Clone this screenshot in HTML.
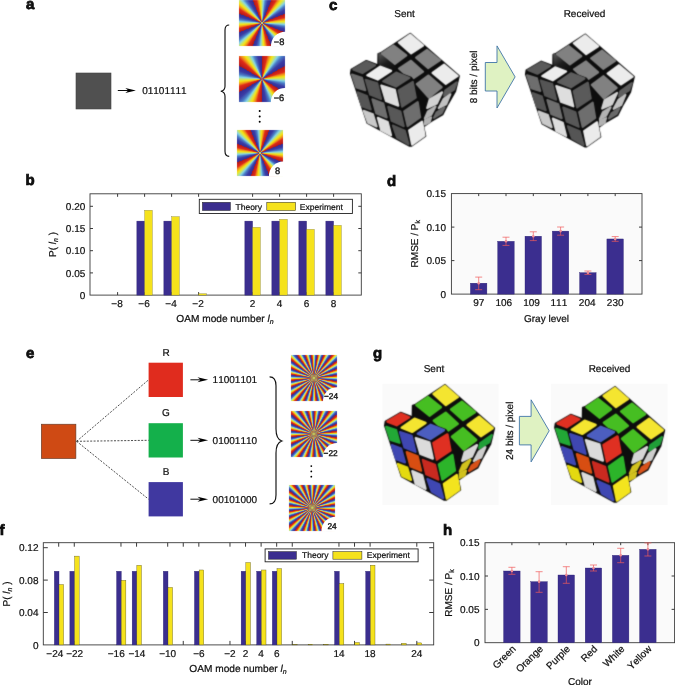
<!DOCTYPE html>
<html lang="en"><head><meta charset="utf-8"><title>OAM encoding figure</title>
<style>
html,body{margin:0;padding:0;background:#fff;}
#fig{position:relative;width:675px;height:685px;overflow:hidden;background:#fff;font-family:"Liberation Sans", Arial, Helvetica, sans-serif;}
.pat{position:absolute;filter:url(#pblur);}
svg{position:absolute;left:0;top:0;}
svg text{font-family:"Liberation Sans", Arial, Helvetica, sans-serif;fill:#111;text-rendering:geometricPrecision;font-kerning:none;stroke:#111;stroke-width:0.22px;}
svg text.lb{stroke-width:0.35px;}
</style></head><body>
<div id="fig">
<div class="pat" style="left:239px;top:-0.2px;width:46px;height:46px;background:repeating-conic-gradient(from 22.5deg at 50% 50%, #ae1818 0deg, #c4201a 3.6deg, #de2a18 9deg, #f08c1a 13.05deg, #f4e412 18deg, #c8e46c 22.05deg, #84d4e6 26.1deg, #4a7cc6 31.05deg, #3a3ca4 37.35deg, #342c96 45deg)"></div>
<div class="pat" style="left:238.9px;top:56px;width:46px;height:46px;background:repeating-conic-gradient(from 0deg at 50% 50%, #ae1818 0deg, #c4201a 4.8deg, #de2a18 12deg, #f08c1a 17.4deg, #f4e412 24deg, #c8e46c 29.4deg, #84d4e6 34.8deg, #4a7cc6 41.4deg, #3a3ca4 49.8deg, #342c96 60deg)"></div>
<div class="pat" style="left:237px;top:129.6px;width:46px;height:46px;background:repeating-conic-gradient(from 22.5deg at 50% 50%, #342c96 0deg, #3a3ca4 7.65deg, #4a7cc6 13.95deg, #84d4e6 18.9deg, #c8e46c 22.95deg, #f4e412 27deg, #f08c1a 31.95deg, #de2a18 36deg, #c4201a 41.4deg, #ae1818 45deg)"></div>
<div class="pat" style="left:290.7px;top:354.9px;width:46.3px;height:46.3px;background:repeating-conic-gradient(from 7.5deg at 50% 50%, #ae1818 0deg, #c4201a 1.2deg, #de2a18 3deg, #f08c1a 4.35deg, #f4e412 6deg, #c8e46c 7.35deg, #84d4e6 8.7deg, #4a7cc6 10.35deg, #3a3ca4 12.45deg, #342c96 15deg)"></div>
<div class="pat" style="left:290.6px;top:410.8px;width:46.3px;height:46.3px;background:repeating-conic-gradient(from 16.36deg at 50% 50%, #ae1818 0deg, #c4201a 1.31deg, #de2a18 3.27deg, #f08c1a 4.75deg, #f4e412 6.55deg, #c8e46c 8.02deg, #84d4e6 9.49deg, #4a7cc6 11.29deg, #3a3ca4 13.58deg, #342c96 16.36deg)"></div>
<div class="pat" style="left:289.2px;top:484.5px;width:46.3px;height:46.3px;background:repeating-conic-gradient(from 7.5deg at 50% 50%, #342c96 0deg, #3a3ca4 2.55deg, #4a7cc6 4.65deg, #84d4e6 6.3deg, #c8e46c 7.65deg, #f4e412 9deg, #f08c1a 10.65deg, #de2a18 12deg, #c4201a 13.8deg, #ae1818 15deg)"></div>
<svg width="675" height="685" viewBox="0 0 675 685">
<defs><radialGradient id="blob"><stop offset="0" stop-color="#c4d05c" stop-opacity="0.95"/><stop offset="0.13" stop-color="#bcc45a" stop-opacity="0.95"/><stop offset="0.26" stop-color="#a88a52" stop-opacity="0.9"/><stop offset="0.55" stop-color="#a88450" stop-opacity="0.7"/><stop offset="1" stop-color="#a88450" stop-opacity="0"/></radialGradient><linearGradient id="sideg" gradientUnits="userSpaceOnUse" x1="414" y1="404" x2="426" y2="424"><stop offset="0" stop-color="#5a5a5a"/><stop offset="0.55" stop-color="#1c1c1c"/><stop offset="1" stop-color="#0d0d0d"/></linearGradient><filter id="pblur" x="-5%" y="-5%" width="110%" height="110%" color-interpolation-filters="sRGB"><feConvolveMatrix order="3" kernelMatrix="0.0108 0.1040 0.0108 0.1040 1 0.1040 0.0108 0.1040 0.0108" edgeMode="duplicate" preserveAlpha="false"/></filter><filter id="soft" x="-5%" y="-5%" width="110%" height="110%" color-interpolation-filters="sRGB"><feConvolveMatrix order="3" kernelMatrix="0.0622 0.2494 0.0622 0.2494 1 0.2494 0.0622 0.2494 0.0622" edgeMode="none" preserveAlpha="false"/></filter></defs>
<text x="26" y="9.4" font-size="15" font-weight="bold" style="stroke:#000;stroke-width:0.7px">a</text>
<rect x="76" y="73" width="35" height="36" fill="#505050" stroke="#444" stroke-width="0.6"/>
<path d="M117.8 90.5 H129.6" stroke="#000" stroke-width="0.95" fill="none"/>
<path d="M135.9 90.5 L125.3 88 L128.4 90.5 L125.3 93 Z" fill="#000"/>
<text x="142.2" y="94.1" font-size="10" text-anchor="start" >01101111</text>
<path d="M229.2 25 Q225 25 225 30 L225 86.2 C225 89.7 222.9 90.8 220.8 91.2 C222.9 91.6 225 92.7 225 96.2 L225 151.3 Q225 156.3 229.2 156.3" stroke="#111" stroke-width="1.15" fill="none"/>
<path d="M271 46.8 A14 14 0 0 1 286 31.8 L286 46.8 L271 46.8 Z" fill="#fff"/>
<text x="284.4" y="44.6" font-size="9.3" text-anchor="end" class="lb">−8</text>
<path d="M270.9 103 A14 14 0 0 1 285.9 88 L285.9 103 L270.9 103 Z" fill="#fff"/>
<text x="284.3" y="100.8" font-size="9.3" text-anchor="end" class="lb">−6</text>
<path d="M269 176.6 A14 14 0 0 1 284 161.6 L284 176.6 L269 176.6 Z" fill="#fff"/>
<text x="280.2" y="174.4" font-size="9.3" text-anchor="end" class="lb">8</text>
<circle cx="259.7" cy="111" r="1" fill="#000"/>
<circle cx="259.7" cy="116.4" r="1" fill="#000"/>
<circle cx="259.7" cy="121.8" r="1" fill="#000"/>
<text x="26" y="357.7" font-size="15" font-weight="bold" style="stroke:#000;stroke-width:0.7px">e</text>
<rect x="41.3" y="424.2" width="34.6" height="34.4" fill="#cf4a14" stroke="#5a3a2a" stroke-width="0.6"/>
<rect x="148.6" y="362.7" width="34.3" height="34.3" fill="#e02c1e"/>
<text x="166" y="355.8" font-size="10" text-anchor="middle" >R</text>
<path d="M190.4 379.8 H201.8" stroke="#000" stroke-width="0.95" fill="none"/>
<path d="M208.1 379.8 L197.5 377.3 L200.6 379.8 L197.5 382.3 Z" fill="#000"/>
<text x="212.6" y="383.4" font-size="10" text-anchor="start" >11001101</text>
<path d="M76.6 441.3 L148.6 379.8" stroke="#222" stroke-width="0.8" stroke-dasharray="2 1.4" fill="none"/>
<rect x="148.6" y="423.2" width="34.3" height="34.3" fill="#14b04b"/>
<text x="166" y="416.3" font-size="10" text-anchor="middle" >G</text>
<path d="M190.4 440.3 H201.8" stroke="#000" stroke-width="0.95" fill="none"/>
<path d="M208.1 440.3 L197.5 437.8 L200.6 440.3 L197.5 442.8 Z" fill="#000"/>
<text x="212.6" y="443.9" font-size="10" text-anchor="start" >01001110</text>
<path d="M76.6 441.3 L148.6 440.3" stroke="#222" stroke-width="0.8" stroke-dasharray="2 1.4" fill="none"/>
<rect x="148.6" y="482.1" width="34.3" height="34.3" fill="#4038a0"/>
<text x="166" y="475.2" font-size="10" text-anchor="middle" >B</text>
<path d="M190.4 499.2 H201.8" stroke="#000" stroke-width="0.95" fill="none"/>
<path d="M208.1 499.2 L197.5 496.7 L200.6 499.2 L197.5 501.7 Z" fill="#000"/>
<text x="212.6" y="502.8" font-size="10" text-anchor="start" >00101000</text>
<path d="M76.6 441.3 L148.6 499.2" stroke="#222" stroke-width="0.8" stroke-dasharray="2 1.4" fill="none"/>
<path d="M269.6 376.8 Q276 376.8 276 385.8 L276 429 C276 437.4 278.9 440.04 281.8 441 C278.9 441.96 276 444.6 276 453 L276 494.9 Q276 503.9 269.6 503.9" stroke="#111" stroke-width="1.15" fill="none"/>
<circle cx="313.85" cy="378.05" r="6.5" fill="url(#blob)"/>
<path d="M323 402.2 A14 14 0 0 1 338 387.2 L338 402.2 L323 402.2 Z" fill="#fff"/>
<text x="338" y="399.2" font-size="8.3" text-anchor="end" class="lb">−24</text>
<circle cx="313.75" cy="433.95" r="6.5" fill="url(#blob)"/>
<path d="M322.9 458.1 A14 14 0 0 1 337.9 443.1 L337.9 458.1 L322.9 458.1 Z" fill="#fff"/>
<text x="337.7" y="455.6" font-size="8.3" text-anchor="end" class="lb">−22</text>
<circle cx="312.35" cy="507.65" r="6.5" fill="url(#blob)"/>
<path d="M321.5 531.8 A14 14 0 0 1 336.5 516.8 L336.5 531.8 L321.5 531.8 Z" fill="#fff"/>
<text x="336.7" y="529" font-size="8.3" text-anchor="end" class="lb">24</text>
<circle cx="311.3" cy="466.1" r="0.9" fill="#000"/>
<circle cx="311.3" cy="471.4" r="0.9" fill="#000"/>
<circle cx="311.3" cy="476.7" r="0.9" fill="#000"/>
<text x="25.6" y="185.3" font-size="15" font-weight="bold" style="stroke:#000;stroke-width:0.7px">b</text>
<rect x="90" y="193.8" width="271.3" height="101.3" fill="none" stroke="#3a3a3a" stroke-width="0.9"/>
<path d="M117.6 295.1 v-3 M117.6 193.8 v3 M144.6 295.1 v-3 M144.6 193.8 v3 M171.6 295.1 v-3 M171.6 193.8 v3 M198.6 295.1 v-3 M198.6 193.8 v3 M252.6 295.1 v-3 M252.6 193.8 v3 M279.6 295.1 v-3 M279.6 193.8 v3 M306.6 295.1 v-3 M306.6 193.8 v3 M333.6 295.1 v-3 M333.6 193.8 v3 " stroke="#3a3a3a" stroke-width="1" fill="none"/>
<path d="M90 272.9 h3 M361.3 272.9 h-3 M90 250.7 h3 M361.3 250.7 h-3 M90 228.5 h3 M361.3 228.5 h-3 M90 206.3 h3 M361.3 206.3 h-3 " stroke="#3a3a3a" stroke-width="1" fill="none"/>
<text x="85.3" y="298.7" font-size="10" text-anchor="end" >0</text>
<text x="85.3" y="276.5" font-size="10" text-anchor="end" >0.05</text>
<text x="85.3" y="254.3" font-size="10" text-anchor="end" >0.10</text>
<text x="85.3" y="232.1" font-size="10" text-anchor="end" >0.15</text>
<text x="85.3" y="209.9" font-size="10" text-anchor="end" >0.20</text>
<text x="117" y="307.2" font-size="10" text-anchor="middle" >−8</text>
<text x="144" y="307.2" font-size="10" text-anchor="middle" >−6</text>
<text x="171" y="307.2" font-size="10" text-anchor="middle" >−4</text>
<text x="198" y="307.2" font-size="10" text-anchor="middle" >−2</text>
<text x="252.6" y="307.2" font-size="10" text-anchor="middle" >2</text>
<text x="279.6" y="307.2" font-size="10" text-anchor="middle" >4</text>
<text x="306.6" y="307.2" font-size="10" text-anchor="middle" >6</text>
<text x="333.6" y="307.2" font-size="10" text-anchor="middle" >8</text>
<rect x="136.85" y="221.1" width="7.75" height="74" fill="#3b2e8f" stroke="#2a2070" stroke-width="0.35"/>
<rect x="144.7" y="210.3" width="7.6" height="84.8" fill="#f5e21c" stroke="#7a7428" stroke-width="0.35"/>
<rect x="163.85" y="221.1" width="7.75" height="74" fill="#3b2e8f" stroke="#2a2070" stroke-width="0.35"/>
<rect x="171.7" y="216.69" width="7.6" height="78.41" fill="#f5e21c" stroke="#7a7428" stroke-width="0.35"/>
<rect x="198.7" y="293.77" width="7.6" height="1.33" fill="#f5e21c" stroke="#7a7428" stroke-width="0.35"/>
<rect x="244.85" y="221.1" width="7.75" height="74" fill="#3b2e8f" stroke="#2a2070" stroke-width="0.35"/>
<rect x="252.7" y="227.39" width="7.6" height="67.71" fill="#f5e21c" stroke="#7a7428" stroke-width="0.35"/>
<rect x="271.85" y="221.1" width="7.75" height="74" fill="#3b2e8f" stroke="#2a2070" stroke-width="0.35"/>
<rect x="279.7" y="219.4" width="7.6" height="75.7" fill="#f5e21c" stroke="#7a7428" stroke-width="0.35"/>
<rect x="298.85" y="221.1" width="7.75" height="74" fill="#3b2e8f" stroke="#2a2070" stroke-width="0.35"/>
<rect x="306.7" y="229.39" width="7.6" height="65.71" fill="#f5e21c" stroke="#7a7428" stroke-width="0.35"/>
<rect x="325.85" y="221.1" width="7.75" height="74" fill="#3b2e8f" stroke="#2a2070" stroke-width="0.35"/>
<rect x="333.7" y="225.39" width="7.6" height="69.71" fill="#f5e21c" stroke="#7a7428" stroke-width="0.35"/>
<rect x="199.3" y="199.3" width="153.1" height="14.2" fill="#fff" stroke="#222" stroke-width="0.9"/>
<rect x="202.4" y="202.3" width="28" height="8.2" fill="#3b2e8f" stroke="#222" stroke-width="0.5"/>
<rect x="266.8" y="202.3" width="28.8" height="8.2" fill="#f5e21c" stroke="#222" stroke-width="0.5"/>
<text x="235.5" y="209.5" font-size="8.5" text-anchor="start" >Theory</text>
<text x="299.8" y="209.5" font-size="8.5" text-anchor="start" >Experiment</text>
<text transform="translate(56 244.4) rotate(-90)" font-size="10" text-anchor="middle">P( <tspan font-style="italic">l</tspan><tspan font-size="7" dy="2" font-style="italic">n</tspan><tspan dy="-2"> )</tspan></text>
<text x="225" y="321.9" font-size="10.15" text-anchor="middle">OAM mode number <tspan font-style="italic">l</tspan><tspan font-size="7" dy="2" font-style="italic">n</tspan></text>
<text x="387" y="185.8" font-size="15" font-weight="bold" style="stroke:#000;stroke-width:0.7px">d</text>
<rect x="451.4" y="193.6" width="190.6" height="100.5" fill="#fafafa" stroke="#3a3a3a" stroke-width="0.9"/>
<path d="M478.7 294.1 v-2.5 M478.7 193.6 v2.5 M506 294.1 v-2.5 M506 193.6 v2.5 M533.3 294.1 v-2.5 M533.3 193.6 v2.5 M560.6 294.1 v-2.5 M560.6 193.6 v2.5 M587.9 294.1 v-2.5 M587.9 193.6 v2.5 M615.2 294.1 v-2.5 M615.2 193.6 v2.5 " stroke="#3a3a3a" stroke-width="1" fill="none"/>
<path d="M451.4 260.6 h3 M642 260.6 h-3 M451.4 227.1 h3 M642 227.1 h-3 " stroke="#3a3a3a" stroke-width="1" fill="none"/>
<text x="446" y="297.7" font-size="10" text-anchor="end" >0</text>
<text x="446" y="264.2" font-size="10" text-anchor="end" >0.05</text>
<text x="446" y="230.7" font-size="10" text-anchor="end" >0.10</text>
<text x="446" y="197.2" font-size="10" text-anchor="end" >0.15</text>
<rect x="470.4" y="283.18" width="16.5" height="10.92" fill="#3b2e8f" stroke="#2a2070" stroke-width="0.35"/>
<path d="M478.7 277.1 V289.7 M475.2 277.1 h7 M475.2 289.7 h7" stroke="#f05a5a" stroke-width="0.7" fill="none"/>
<circle cx="478.7" cy="283.18" r="1.3" fill="#ee8c96"/>
<text x="478.7" y="306.3" font-size="10" text-anchor="middle" >97</text>
<rect x="497.7" y="241.3" width="16.5" height="52.8" fill="#3b2e8f" stroke="#2a2070" stroke-width="0.35"/>
<path d="M506 237.2 V245.4 M502.5 237.2 h7 M502.5 245.4 h7" stroke="#f05a5a" stroke-width="0.7" fill="none"/>
<circle cx="506" cy="241.3" r="1.3" fill="#ee8c96"/>
<text x="503.8" y="306.3" font-size="10" text-anchor="middle" >106</text>
<rect x="525" y="236.21" width="16.5" height="57.89" fill="#3b2e8f" stroke="#2a2070" stroke-width="0.35"/>
<path d="M533.3 231.8 V240.6 M529.8 231.8 h7 M529.8 240.6 h7" stroke="#f05a5a" stroke-width="0.7" fill="none"/>
<circle cx="533.3" cy="236.21" r="1.3" fill="#ee8c96"/>
<text x="531.6" y="306.3" font-size="10" text-anchor="middle" >109</text>
<rect x="552.3" y="231.12" width="16.5" height="62.98" fill="#3b2e8f" stroke="#2a2070" stroke-width="0.35"/>
<path d="M560.6 227 V235.2 M557.1 227 h7 M557.1 235.2 h7" stroke="#f05a5a" stroke-width="0.7" fill="none"/>
<circle cx="560.6" cy="231.12" r="1.3" fill="#ee8c96"/>
<text x="558.9" y="306.3" font-size="10" text-anchor="middle" >111</text>
<rect x="579.6" y="272.66" width="16.5" height="21.44" fill="#3b2e8f" stroke="#2a2070" stroke-width="0.35"/>
<path d="M587.9 271 V274.4 M584.4 271 h7 M584.4 274.4 h7" stroke="#f05a5a" stroke-width="0.7" fill="none"/>
<circle cx="587.9" cy="272.66" r="1.3" fill="#ee8c96"/>
<text x="587.2" y="306.3" font-size="10" text-anchor="middle" >204</text>
<rect x="606.9" y="238.96" width="16.5" height="55.14" fill="#3b2e8f" stroke="#2a2070" stroke-width="0.35"/>
<path d="M615.2 236.6 V241.3 M611.7 236.6 h7 M611.7 241.3 h7" stroke="#f05a5a" stroke-width="0.7" fill="none"/>
<circle cx="615.2" cy="238.96" r="1.3" fill="#ee8c96"/>
<text x="615.2" y="306.3" font-size="10" text-anchor="middle" >230</text>
<text transform="translate(417.6 243.7) rotate(-90)" font-size="10" text-anchor="middle">RMSE / P<tspan font-size="7" dy="2">k</tspan></text>
<text x="546.5" y="321.5" font-size="10" text-anchor="middle" >Gray level</text>
<text x="-0.5" y="535.1" font-size="15" font-weight="bold" style="stroke:#000;stroke-width:0.7px">f</text>
<rect x="43.3" y="542.7" width="390.4" height="102.2" fill="none" stroke="#3a3a3a" stroke-width="0.9"/>
<path d="M58.7 644.9 v-4 M58.7 542.7 v4 M74.27 644.9 v-4 M74.27 542.7 v4 M120.98 644.9 v-4 M120.98 542.7 v4 M136.55 644.9 v-4 M136.55 542.7 v4 M167.69 644.9 v-4 M167.69 542.7 v4 M198.83 644.9 v-4 M198.83 542.7 v4 M229.97 644.9 v-4 M229.97 542.7 v4 M245.54 644.9 v-4 M245.54 542.7 v4 M261.11 644.9 v-4 M261.11 542.7 v4 M276.68 644.9 v-4 M276.68 542.7 v4 M338.96 644.9 v-4 M338.96 542.7 v4 M370.1 644.9 v-4 M370.1 542.7 v4 M416.81 644.9 v-4 M416.81 542.7 v4 M183.26 644.9 v-4 M183.26 542.7 v4 M292.25 644.9 v-4 M292.25 542.7 v4 M354.53 644.9 v-4 M354.53 542.7 v4 " stroke="#3a3a3a" stroke-width="1" fill="none"/>
<path d="M43.3 612.5 h4.5 M433.7 612.5 h-4.5 M43.3 580.1 h4.5 M433.7 580.1 h-4.5 M43.3 547.7 h4.5 M433.7 547.7 h-4.5 " stroke="#3a3a3a" stroke-width="1" fill="none"/>
<text x="38.5" y="648.5" font-size="10" text-anchor="end" >0</text>
<text x="38.5" y="616.1" font-size="10" text-anchor="end" >0.04</text>
<text x="38.5" y="583.7" font-size="10" text-anchor="end" >0.08</text>
<text x="38.5" y="551.3" font-size="10" text-anchor="end" >0.12</text>
<text x="54.8" y="657.2" font-size="10" text-anchor="middle" >−24</text>
<text x="74.67" y="657.2" font-size="10" text-anchor="middle" >−22</text>
<text x="116.28" y="657.2" font-size="10" text-anchor="middle" >−16</text>
<text x="136.95" y="657.2" font-size="10" text-anchor="middle" >−14</text>
<text x="167.69" y="657.2" font-size="10" text-anchor="middle" >−10</text>
<text x="198.83" y="657.2" font-size="10" text-anchor="middle" >−6</text>
<text x="229.97" y="657.2" font-size="10" text-anchor="middle" >−2</text>
<text x="245.54" y="657.2" font-size="10" text-anchor="middle" >2</text>
<text x="261.11" y="657.2" font-size="10" text-anchor="middle" >4</text>
<text x="276.68" y="657.2" font-size="10" text-anchor="middle" >6</text>
<text x="338.96" y="657.2" font-size="10" text-anchor="middle" >14</text>
<text x="370.1" y="657.2" font-size="10" text-anchor="middle" >18</text>
<text x="416.81" y="657.2" font-size="10" text-anchor="middle" >24</text>
<rect x="54.3" y="571.26" width="4.7" height="73.64" fill="#3b2e8f" stroke="#2a2070" stroke-width="0.35"/>
<rect x="59" y="584.55" width="4.6" height="60.35" fill="#f5e21c" stroke="#4a4618" stroke-width="0.35"/>
<rect x="69.87" y="571.26" width="4.7" height="73.64" fill="#3b2e8f" stroke="#2a2070" stroke-width="0.35"/>
<rect x="74.57" y="556.12" width="4.6" height="88.78" fill="#f5e21c" stroke="#4a4618" stroke-width="0.35"/>
<rect x="116.58" y="571.26" width="4.7" height="73.64" fill="#3b2e8f" stroke="#2a2070" stroke-width="0.35"/>
<rect x="121.28" y="580.34" width="4.6" height="64.56" fill="#f5e21c" stroke="#4a4618" stroke-width="0.35"/>
<rect x="132.15" y="571.26" width="4.7" height="73.64" fill="#3b2e8f" stroke="#2a2070" stroke-width="0.35"/>
<rect x="136.85" y="565.28" width="4.6" height="79.62" fill="#f5e21c" stroke="#4a4618" stroke-width="0.35"/>
<rect x="163.29" y="571.26" width="4.7" height="73.64" fill="#3b2e8f" stroke="#2a2070" stroke-width="0.35"/>
<rect x="167.99" y="587.39" width="4.6" height="57.51" fill="#f5e21c" stroke="#4a4618" stroke-width="0.35"/>
<rect x="194.43" y="571.26" width="4.7" height="73.64" fill="#3b2e8f" stroke="#2a2070" stroke-width="0.35"/>
<rect x="199.13" y="569.98" width="4.6" height="74.92" fill="#f5e21c" stroke="#4a4618" stroke-width="0.35"/>
<rect x="241.14" y="571.26" width="4.7" height="73.64" fill="#3b2e8f" stroke="#2a2070" stroke-width="0.35"/>
<rect x="245.84" y="562.52" width="4.6" height="82.38" fill="#f5e21c" stroke="#4a4618" stroke-width="0.35"/>
<rect x="256.71" y="571.26" width="4.7" height="73.64" fill="#3b2e8f" stroke="#2a2070" stroke-width="0.35"/>
<rect x="261.41" y="569.98" width="4.6" height="74.92" fill="#f5e21c" stroke="#4a4618" stroke-width="0.35"/>
<rect x="272.28" y="571.26" width="4.7" height="73.64" fill="#3b2e8f" stroke="#2a2070" stroke-width="0.35"/>
<rect x="276.98" y="568.6" width="4.6" height="76.3" fill="#f5e21c" stroke="#4a4618" stroke-width="0.35"/>
<rect x="292.55" y="644.41" width="4.6" height="0.49" fill="#f5e21c" stroke="#4a4618" stroke-width="0.35"/>
<rect x="308.12" y="644.25" width="4.6" height="0.65" fill="#f5e21c" stroke="#4a4618" stroke-width="0.35"/>
<rect x="323.69" y="644.25" width="4.6" height="0.65" fill="#f5e21c" stroke="#4a4618" stroke-width="0.35"/>
<rect x="334.56" y="571.26" width="4.7" height="73.64" fill="#3b2e8f" stroke="#2a2070" stroke-width="0.35"/>
<rect x="339.26" y="583.58" width="4.6" height="61.32" fill="#f5e21c" stroke="#4a4618" stroke-width="0.35"/>
<rect x="354.83" y="642.47" width="4.6" height="2.43" fill="#f5e21c" stroke="#4a4618" stroke-width="0.35"/>
<rect x="365.7" y="571.26" width="4.7" height="73.64" fill="#3b2e8f" stroke="#2a2070" stroke-width="0.35"/>
<rect x="370.4" y="565.2" width="4.6" height="79.7" fill="#f5e21c" stroke="#4a4618" stroke-width="0.35"/>
<rect x="385.97" y="644.09" width="4.6" height="0.81" fill="#f5e21c" stroke="#4a4618" stroke-width="0.35"/>
<rect x="401.54" y="643.28" width="4.6" height="1.62" fill="#f5e21c" stroke="#4a4618" stroke-width="0.35"/>
<rect x="417.11" y="642.88" width="4.6" height="2.02" fill="#f5e21c" stroke="#4a4618" stroke-width="0.35"/>
<rect x="265.1" y="548.9" width="153" height="12.9" fill="#fff" stroke="#222" stroke-width="0.9"/>
<rect x="268.5" y="551.6" width="27.9" height="7.6" fill="#3b2e8f" stroke="#222" stroke-width="0.5"/>
<rect x="332.9" y="551.6" width="29" height="7.6" fill="#f5e21c" stroke="#222" stroke-width="0.5"/>
<text x="302" y="558.4" font-size="8.5" text-anchor="start" >Theory</text>
<text x="366.8" y="558.4" font-size="8.5" text-anchor="start" >Experiment</text>
<text transform="translate(10.2 594) rotate(-90)" font-size="10" text-anchor="middle">P( <tspan font-style="italic">l</tspan><tspan font-size="7" dy="2" font-style="italic">n</tspan><tspan dy="-2"> )</tspan></text>
<text x="238" y="671.5" font-size="10.15" text-anchor="middle">OAM mode number <tspan font-style="italic">l</tspan><tspan font-size="7" dy="2" font-style="italic">n</tspan></text>
<text x="443" y="535.1" font-size="15" font-weight="bold" style="stroke:#000;stroke-width:0.7px">h</text>
<rect x="485" y="542.7" width="189.6" height="100" fill="#fafafa" stroke="#3a3a3a" stroke-width="0.9"/>
<path d="M511.9 642.7 v-2.5 M511.9 542.7 v2.5 M539.1 642.7 v-2.5 M539.1 542.7 v2.5 M566.3 642.7 v-2.5 M566.3 542.7 v2.5 M593.5 642.7 v-2.5 M593.5 542.7 v2.5 M620.7 642.7 v-2.5 M620.7 542.7 v2.5 M647.9 642.7 v-2.5 M647.9 542.7 v2.5 " stroke="#3a3a3a" stroke-width="1" fill="none"/>
<path d="M485 609.35 h3 M674.6 609.35 h-3 M485 576 h3 M674.6 576 h-3 " stroke="#3a3a3a" stroke-width="1" fill="none"/>
<text x="479.5" y="646.3" font-size="10" text-anchor="end" >0</text>
<text x="479.5" y="612.95" font-size="10" text-anchor="end" >0.05</text>
<text x="479.5" y="579.6" font-size="10" text-anchor="end" >0.10</text>
<text x="479.5" y="546.25" font-size="10" text-anchor="end" >0.15</text>
<rect x="503.6" y="571" width="16.5" height="71.7" fill="#3b2e8f" stroke="#2a2070" stroke-width="0.35"/>
<path d="M511.9 567.3 V574.3 M508.4 567.3 h7 M508.4 574.3 h7" stroke="#f05a5a" stroke-width="0.7" fill="none"/>
<circle cx="511.9" cy="571" r="1.3" fill="#ee8c96"/>
<text transform="translate(516.4 649.5) rotate(-45)" font-size="10" text-anchor="end">Green</text>
<rect x="530.8" y="581.67" width="16.5" height="61.03" fill="#3b2e8f" stroke="#2a2070" stroke-width="0.35"/>
<path d="M539.1 571.7 V592.3 M535.6 571.7 h7 M535.6 592.3 h7" stroke="#f05a5a" stroke-width="0.7" fill="none"/>
<circle cx="539.1" cy="581.67" r="1.3" fill="#ee8c96"/>
<text transform="translate(543.6 649.5) rotate(-45)" font-size="10" text-anchor="end">Orange</text>
<rect x="558" y="575" width="16.5" height="67.7" fill="#3b2e8f" stroke="#2a2070" stroke-width="0.35"/>
<path d="M566.3 566.7 V583.3 M562.8 566.7 h7 M562.8 583.3 h7" stroke="#f05a5a" stroke-width="0.7" fill="none"/>
<circle cx="566.3" cy="575" r="1.3" fill="#ee8c96"/>
<text transform="translate(570.8 649.5) rotate(-45)" font-size="10" text-anchor="end">Purple</text>
<rect x="585.2" y="568" width="16.5" height="74.7" fill="#3b2e8f" stroke="#2a2070" stroke-width="0.35"/>
<path d="M593.5 565 V571 M590 565 h7 M590 571 h7" stroke="#f05a5a" stroke-width="0.7" fill="none"/>
<circle cx="593.5" cy="568" r="1.3" fill="#ee8c96"/>
<text transform="translate(598 649.5) rotate(-45)" font-size="10" text-anchor="end">Red</text>
<rect x="612.4" y="555.32" width="16.5" height="87.38" fill="#3b2e8f" stroke="#2a2070" stroke-width="0.35"/>
<path d="M620.7 548.3 V562.7 M617.2 548.3 h7 M617.2 562.7 h7" stroke="#f05a5a" stroke-width="0.7" fill="none"/>
<circle cx="620.7" cy="555.32" r="1.3" fill="#ee8c96"/>
<text transform="translate(625.2 649.5) rotate(-45)" font-size="10" text-anchor="end">White</text>
<rect x="639.6" y="549.32" width="16.5" height="93.38" fill="#3b2e8f" stroke="#2a2070" stroke-width="0.35"/>
<path d="M647.9 542.9 V556 M644.4 542.9 h7 M644.4 556 h7" stroke="#f05a5a" stroke-width="0.7" fill="none"/>
<circle cx="647.9" cy="549.32" r="1.3" fill="#ee8c96"/>
<text transform="translate(652.4 649.5) rotate(-45)" font-size="10" text-anchor="end">Yellow</text>
<text transform="translate(452.3 593) rotate(-90)" font-size="10" text-anchor="middle">RMSE / P<tspan font-size="7" dy="2">k</tspan></text>
<text x="580" y="684.5" font-size="10" text-anchor="middle" >Color</text>
<text x="329" y="10.2" font-size="15" font-weight="bold" style="stroke:#000;stroke-width:0.7px">c</text>
<text x="404.6" y="16.6" font-size="10" text-anchor="middle" >Sent</text>
<text x="584.5" y="16.6" font-size="10" text-anchor="middle" >Received</text>
<polygon points="485.3,62.5 497,62.5 497,45.9 515.1,76.9 497,108 497,91 485.3,91" fill="#dff2c2" stroke="#3f74a8" stroke-width="0.9"/>
<text transform="translate(477 76.9) rotate(-90)" font-size="10" text-anchor="middle">8 bits / pixel</text>
<text x="373" y="357.7" font-size="15" font-weight="bold" style="stroke:#000;stroke-width:0.7px">g</text>
<text x="434" y="372.4" font-size="10" text-anchor="middle" >Sent</text>
<text x="609.5" y="372.4" font-size="10" text-anchor="middle" >Received</text>
<polygon points="519.4,416.4 531.1,416.4 531.1,399.8 549.2,430.8 531.1,461.9 531.1,444.9 519.4,444.9" fill="#dff2c2" stroke="#3f74a8" stroke-width="0.9"/>
<text transform="translate(512.5 430.8) rotate(-90)" font-size="10" text-anchor="middle">24 bits / pixel</text>
<rect x="382.5" y="383.8" width="116" height="121.2" fill="#fafafa"/>
<g transform="translate(444.7 383.6) scale(1 1.0000) translate(-444.7 -383.6)" filter="url(#soft)">
<polygon points="444.9,385 494.1,428.3 490.3,444 482,458.5 477.6,467.6 466.7,474 459.3,479.3 445,470 445,431 412.6,418 412.8,405.6 415,405" fill="#0d0d0d" stroke="#0d0d0d" stroke-width="2.0" stroke-linejoin="round"/>
<polygon points="444.85,386.01 457.78,397.12 445.87,405.09 433.48,393.98" fill="#f4e530" stroke="#f4e530" stroke-width="2.4" stroke-linejoin="round"/>
<polygon points="428.26,397.09 440.89,407.18 429.42,415.69 416.35,405.06" fill="#46be22" stroke="#46be22" stroke-width="2.4" stroke-linejoin="round"/>
<polygon points="461.87,401.61 474.95,412.14 463.07,420.09 450.98,409.46" fill="#46be22" stroke="#46be22" stroke-width="2.4" stroke-linejoin="round"/>
<polygon points="445.72,412.71 457.82,423.81 446.07,431.98 433.7,420.7" fill="#46be22" stroke="#46be22" stroke-width="2.4" stroke-linejoin="round"/>
<polygon points="479.06,416.62 492.77,428.23 480.85,436.2 467.59,425.04" fill="#f4e530" stroke="#f4e530" stroke-width="2.4" stroke-linejoin="round"/>
<polygon points="462.97,428.24 476.25,439.96 463.69,449.72 451.88,436.8" fill="#46be22" stroke="#46be22" stroke-width="2.4" stroke-linejoin="round"/>
<polygon points="480.32,443.27 491.69,435.14 489.14,442.27 479.34,448.27" fill="#20a038" stroke="#20a038" stroke-width="2.4" stroke-linejoin="round"/>
<polygon points="464.68,452.23 476.93,445.15 471.8,456.4 462.16,460.84" fill="#d6d6d6" stroke="#d6d6d6" stroke-width="2.4" stroke-linejoin="round"/>
<polygon points="478.81,451.75 485.33,447.21 481.17,457.32 473.89,460.96" fill="#cecece" stroke="#cecece" stroke-width="2.4" stroke-linejoin="round"/>
<polygon points="462.84,464.64 470.32,459.87 466.1,468.02 459.87,471.54" fill="#d2c21e" stroke="#d2c21e" stroke-width="2.4" stroke-linejoin="round"/>
<polygon points="471.72,465.55 479.36,460.61 476.68,466.24 469.06,470.87" fill="#d8521a" stroke="#d8521a" stroke-width="2.4" stroke-linejoin="round"/>
<polygon points="459.9,473.52 465.86,470.84 464.62,475.16 459.9,477.83" fill="#d2c21e" stroke="#d2c21e" stroke-width="2.4" stroke-linejoin="round"/>
<polygon points="385.6,421.7 400.6,412.8 445.6,430 448,433.1 460.2,489.8 446.3,499.8 444.4,499.8 401.7,476.4 385,425.6" fill="#0d0d0d" stroke="#0d0d0d" stroke-width="2.0" stroke-linejoin="round"/>
<polygon points="400.66,413.7 409.18,417.33 396.62,425.21 387.41,421.56" fill="#df3022" stroke="#df3022" stroke-width="2.4" stroke-linejoin="round"/>
<polygon points="414.51,418.7 425.48,422.99 412.11,431.9 401.66,427.62" fill="#f4e530" stroke="#f4e530" stroke-width="2.4" stroke-linejoin="round"/>
<polygon points="430.7,424.8 443.9,430.17 430.51,439.1 417.76,433.73" fill="#4c5ec0" stroke="#4c5ec0" stroke-width="2.4" stroke-linejoin="round"/>
<polygon points="386.26,426.85 396.04,430.03 399.45,442.7 390.63,439.96" fill="#22a836" stroke="#22a836" stroke-width="2.4" stroke-linejoin="round"/>
<polygon points="400.09,432.22 411.53,435.83 415.45,451.76 404.56,447.31" fill="#3f47b2" stroke="#3f47b2" stroke-width="2.4" stroke-linejoin="round"/>
<polygon points="415.8,438.03 429.32,442.42 432.8,458.52 420.46,453.79" fill="#dbdbdb" stroke="#dbdbdb" stroke-width="2.4" stroke-linejoin="round"/>
<polygon points="391.86,445.06 401.04,448.7 404.9,462.4 396.25,459.19" fill="#3f47b2" stroke="#3f47b2" stroke-width="2.4" stroke-linejoin="round"/>
<polygon points="406.79,452.23 417.62,456.49 421.05,470.67 410.67,466.41" fill="#d84e12" stroke="#d84e12" stroke-width="2.4" stroke-linejoin="round"/>
<polygon points="422.84,460.01 434.91,464.79 438.27,479.52 426.28,474.23" fill="#c92a20" stroke="#c92a20" stroke-width="2.4" stroke-linejoin="round"/>
<polygon points="398.06,464 407.15,467.6 410.9,479.9 402.34,475.82" fill="#e4da10" stroke="#e4da10" stroke-width="2.4" stroke-linejoin="round"/>
<polygon points="412.3,471.18 422.12,475.38 425.49,488.77 415.68,483.65" fill="#dbdbdb" stroke="#dbdbdb" stroke-width="2.4" stroke-linejoin="round"/>
<polygon points="427.46,479.07 439.33,484.28 443.11,498.12 431.76,491.46" fill="#3f47b2" stroke="#3f47b2" stroke-width="2.4" stroke-linejoin="round"/>
<polygon points="433.3,442.99 447.42,434.39 450.42,450.53 436.84,459.58" fill="#df3022" stroke="#df3022" stroke-width="2.4" stroke-linejoin="round"/>
<polygon points="438.9,464.55 452.42,455.09 454.93,470.54 442.41,479.55" fill="#2cb42a" stroke="#2cb42a" stroke-width="2.4" stroke-linejoin="round"/>
<polygon points="443.89,484.06 456.83,475.07 459.33,489.44 446.84,498.43" fill="#f3e41e" stroke="#f3e41e" stroke-width="2.4" stroke-linejoin="round"/>
</g>
<rect x="551" y="383.8" width="116.6" height="121.2" fill="#fafafa"/>
<g transform="translate(614.8 385.6) scale(1 1.0000) translate(-444.7 -383.6)" filter="url(#soft)">
<polygon points="444.9,385 494.1,428.3 490.3,444 482,458.5 477.6,467.6 466.7,474 459.3,479.3 445,470 445,431 412.6,418 412.8,405.6 415,405" fill="#0d0d0d" stroke="#0d0d0d" stroke-width="2.0" stroke-linejoin="round"/>
<polygon points="444.85,386.01 457.78,397.12 445.87,405.09 433.48,393.98" fill="#f4e530" stroke="#f4e530" stroke-width="2.4" stroke-linejoin="round"/>
<polygon points="428.26,397.09 440.89,407.18 429.42,415.69 416.35,405.06" fill="#46be22" stroke="#46be22" stroke-width="2.4" stroke-linejoin="round"/>
<polygon points="461.87,401.61 474.95,412.14 463.07,420.09 450.98,409.46" fill="#46be22" stroke="#46be22" stroke-width="2.4" stroke-linejoin="round"/>
<polygon points="445.72,412.71 457.82,423.81 446.07,431.98 433.7,420.7" fill="#46be22" stroke="#46be22" stroke-width="2.4" stroke-linejoin="round"/>
<polygon points="479.06,416.62 492.77,428.23 480.85,436.2 467.59,425.04" fill="#f4e530" stroke="#f4e530" stroke-width="2.4" stroke-linejoin="round"/>
<polygon points="462.97,428.24 476.25,439.96 463.69,449.72 451.88,436.8" fill="#46be22" stroke="#46be22" stroke-width="2.4" stroke-linejoin="round"/>
<polygon points="480.32,443.27 491.69,435.14 489.14,442.27 479.34,448.27" fill="#20a038" stroke="#20a038" stroke-width="2.4" stroke-linejoin="round"/>
<polygon points="464.68,452.23 476.93,445.15 471.8,456.4 462.16,460.84" fill="#d6d6d6" stroke="#d6d6d6" stroke-width="2.4" stroke-linejoin="round"/>
<polygon points="478.81,451.75 485.33,447.21 481.17,457.32 473.89,460.96" fill="#cecece" stroke="#cecece" stroke-width="2.4" stroke-linejoin="round"/>
<polygon points="462.84,464.64 470.32,459.87 466.1,468.02 459.87,471.54" fill="#d2c21e" stroke="#d2c21e" stroke-width="2.4" stroke-linejoin="round"/>
<polygon points="471.72,465.55 479.36,460.61 476.68,466.24 469.06,470.87" fill="#d8521a" stroke="#d8521a" stroke-width="2.4" stroke-linejoin="round"/>
<polygon points="459.9,473.52 465.86,470.84 464.62,475.16 459.9,477.83" fill="#d2c21e" stroke="#d2c21e" stroke-width="2.4" stroke-linejoin="round"/>
<polygon points="385.6,421.7 400.6,412.8 445.6,430 448,433.1 460.2,489.8 446.3,499.8 444.4,499.8 401.7,476.4 385,425.6" fill="#0d0d0d" stroke="#0d0d0d" stroke-width="2.0" stroke-linejoin="round"/>
<polygon points="400.66,413.7 409.18,417.33 396.62,425.21 387.41,421.56" fill="#df3022" stroke="#df3022" stroke-width="2.4" stroke-linejoin="round"/>
<polygon points="414.51,418.7 425.48,422.99 412.11,431.9 401.66,427.62" fill="#f4e530" stroke="#f4e530" stroke-width="2.4" stroke-linejoin="round"/>
<polygon points="430.7,424.8 443.9,430.17 430.51,439.1 417.76,433.73" fill="#4c5ec0" stroke="#4c5ec0" stroke-width="2.4" stroke-linejoin="round"/>
<polygon points="386.26,426.85 396.04,430.03 399.45,442.7 390.63,439.96" fill="#22a836" stroke="#22a836" stroke-width="2.4" stroke-linejoin="round"/>
<polygon points="400.09,432.22 411.53,435.83 415.45,451.76 404.56,447.31" fill="#3f47b2" stroke="#3f47b2" stroke-width="2.4" stroke-linejoin="round"/>
<polygon points="415.8,438.03 429.32,442.42 432.8,458.52 420.46,453.79" fill="#dbdbdb" stroke="#dbdbdb" stroke-width="2.4" stroke-linejoin="round"/>
<polygon points="391.86,445.06 401.04,448.7 404.9,462.4 396.25,459.19" fill="#3f47b2" stroke="#3f47b2" stroke-width="2.4" stroke-linejoin="round"/>
<polygon points="406.79,452.23 417.62,456.49 421.05,470.67 410.67,466.41" fill="#d84e12" stroke="#d84e12" stroke-width="2.4" stroke-linejoin="round"/>
<polygon points="422.84,460.01 434.91,464.79 438.27,479.52 426.28,474.23" fill="#c92a20" stroke="#c92a20" stroke-width="2.4" stroke-linejoin="round"/>
<polygon points="398.06,464 407.15,467.6 410.9,479.9 402.34,475.82" fill="#e4da10" stroke="#e4da10" stroke-width="2.4" stroke-linejoin="round"/>
<polygon points="412.3,471.18 422.12,475.38 425.49,488.77 415.68,483.65" fill="#dbdbdb" stroke="#dbdbdb" stroke-width="2.4" stroke-linejoin="round"/>
<polygon points="427.46,479.07 439.33,484.28 443.11,498.12 431.76,491.46" fill="#3f47b2" stroke="#3f47b2" stroke-width="2.4" stroke-linejoin="round"/>
<polygon points="433.3,442.99 447.42,434.39 450.42,450.53 436.84,459.58" fill="#df3022" stroke="#df3022" stroke-width="2.4" stroke-linejoin="round"/>
<polygon points="438.9,464.55 452.42,455.09 454.93,470.54 442.41,479.55" fill="#2cb42a" stroke="#2cb42a" stroke-width="2.4" stroke-linejoin="round"/>
<polygon points="443.89,484.06 456.83,475.07 459.33,489.44 446.84,498.43" fill="#f3e41e" stroke="#f3e41e" stroke-width="2.4" stroke-linejoin="round"/>
</g>
<g transform="translate(410 32.4) scale(0.99 0.9760) translate(-444.7 -383.6)" filter="url(#soft)">
<polygon points="444.9,385 494.1,428.3 490.3,444 482,458.5 477.6,467.6 466.7,474 459.3,479.3 445,470 445,431 412.6,418 412.8,405.6 415,405" fill="#0d0d0d" stroke="#0d0d0d" stroke-width="2.0" stroke-linejoin="round"/>
<polygon points="412.8,404.6 415.5,405.5 440,428 413,417.5" fill="url(#sideg)"/>
<polygon points="444.86,385.89 457.95,397.13 445.86,405.22 433.32,393.97" fill="#ececec" stroke="#ececec" stroke-width="2.1" stroke-linejoin="round"/>
<polygon points="428.26,396.97 441.05,407.18 429.42,415.81 416.18,405.05" fill="#818181" stroke="#818181" stroke-width="2.1" stroke-linejoin="round"/>
<polygon points="461.88,401.48 475.12,412.15 463.06,420.22 450.82,409.45" fill="#818181" stroke="#818181" stroke-width="2.1" stroke-linejoin="round"/>
<polygon points="445.73,412.59 457.98,423.82 446.06,432.11 433.53,420.69" fill="#818181" stroke="#818181" stroke-width="2.1" stroke-linejoin="round"/>
<polygon points="479.07,416.49 492.94,428.23 480.85,436.33 467.43,425.04" fill="#ececec" stroke="#ececec" stroke-width="2.1" stroke-linejoin="round"/>
<polygon points="463.46,427.7 476.73,439.68 463.68,450.43 451.53,436.51" fill="#818181" stroke="#818181" stroke-width="2.1" stroke-linejoin="round"/>
<polygon points="480.23,443.21 491.89,434.87 489.22,442.33 479.2,448.47" fill="#5e5e5e" stroke="#5e5e5e" stroke-width="2.1" stroke-linejoin="round"/>
<polygon points="464.59,452.17 477.15,444.9 471.87,456.47 462,461.02" fill="#d2d2d2" stroke="#d2d2d2" stroke-width="2.1" stroke-linejoin="round"/>
<polygon points="478.74,451.68 485.55,446.93 481.25,457.39 473.65,461.19" fill="#c2c2c2" stroke="#c2c2c2" stroke-width="2.1" stroke-linejoin="round"/>
<polygon points="462.76,464.57 470.58,459.59 466.17,468.09 459.66,471.77" fill="#b2b2b2" stroke="#b2b2b2" stroke-width="2.1" stroke-linejoin="round"/>
<polygon points="471.64,465.48 479.61,460.33 476.76,466.31 468.81,471.14" fill="#6a6a6a" stroke="#6a6a6a" stroke-width="2.1" stroke-linejoin="round"/>
<polygon points="459.8,473.45 466.01,470.66 464.71,475.23 459.8,478" fill="#b2b2b2" stroke="#b2b2b2" stroke-width="2.1" stroke-linejoin="round"/>
<polygon points="385.6,421.7 400.6,412.8 445.6,430 448,433.1 460.2,489.8 446.3,499.8 444.4,499.8 401.7,476.4 385,425.6" fill="#0d0d0d" stroke="#0d0d0d" stroke-width="2.0" stroke-linejoin="round"/>
<polygon points="400.65,413.58 409.39,417.32 396.63,425.32 387.18,421.57" fill="#5a5a5a" stroke="#5a5a5a" stroke-width="2.1" stroke-linejoin="round"/>
<polygon points="414.49,418.59 425.69,422.96 412.12,432.01 401.46,427.64" fill="#ececec" stroke="#ececec" stroke-width="2.1" stroke-linejoin="round"/>
<polygon points="430.69,424.69 444.11,430.15 430.52,439.21 417.55,433.75" fill="#5e5e5e" stroke="#5e5e5e" stroke-width="2.1" stroke-linejoin="round"/>
<polygon points="386.1,426.69 396.12,429.95 399.59,442.85 390.55,440.04" fill="#6e6e6e" stroke="#6e6e6e" stroke-width="2.1" stroke-linejoin="round"/>
<polygon points="399.94,432.06 411.61,435.75 415.59,451.93 404.48,447.38" fill="#555555" stroke="#555555" stroke-width="2.1" stroke-linejoin="round"/>
<polygon points="415.65,437.88 429.4,442.34 432.94,458.68 420.37,453.87" fill="#dedede" stroke="#dedede" stroke-width="2.1" stroke-linejoin="round"/>
<polygon points="391.7,444.89 401.12,448.62 405.05,462.56 396.17,459.26" fill="#555555" stroke="#555555" stroke-width="2.1" stroke-linejoin="round"/>
<polygon points="406.64,452.06 417.71,456.42 421.2,470.83 410.58,466.48" fill="#6e6e6e" stroke="#6e6e6e" stroke-width="2.1" stroke-linejoin="round"/>
<polygon points="422.7,459.85 435,464.72 438.41,479.7 426.2,474.3" fill="#585858" stroke="#585858" stroke-width="2.1" stroke-linejoin="round"/>
<polygon points="397.89,463.82 407.23,467.53 411.07,480.08 402.26,475.89" fill="#cacaca" stroke="#cacaca" stroke-width="2.1" stroke-linejoin="round"/>
<polygon points="412.15,471.01 422.21,475.31 425.64,488.96 415.6,483.72" fill="#dedede" stroke="#dedede" stroke-width="2.1" stroke-linejoin="round"/>
<polygon points="427.29,478.89 439.41,484.21 443.27,498.33 431.68,491.53" fill="#555555" stroke="#555555" stroke-width="2.1" stroke-linejoin="round"/>
<polygon points="433.19,442.94 447.5,434.23 450.53,450.57 436.77,459.75" fill="#5a5a5a" stroke="#5a5a5a" stroke-width="2.1" stroke-linejoin="round"/>
<polygon points="438.79,464.5 452.49,454.91 455.04,470.58 442.34,479.72" fill="#6e6e6e" stroke="#6e6e6e" stroke-width="2.1" stroke-linejoin="round"/>
<polygon points="443.78,484.01 456.9,474.9 459.44,489.49 446.77,498.6" fill="#ebebeb" stroke="#ebebeb" stroke-width="2.1" stroke-linejoin="round"/>
</g>
<g transform="translate(585 33.1) scale(0.99 0.9760) translate(-444.7 -383.6)" filter="url(#soft)">
<polygon points="444.9,385 494.1,428.3 490.3,444 482,458.5 477.6,467.6 466.7,474 459.3,479.3 445,470 445,431 412.6,418 412.8,405.6 415,405" fill="#0d0d0d" stroke="#0d0d0d" stroke-width="2.0" stroke-linejoin="round"/>
<polygon points="412.8,404.6 415.5,405.5 440,428 413,417.5" fill="url(#sideg)"/>
<polygon points="444.86,385.89 457.95,397.13 445.86,405.22 433.32,393.97" fill="#ececec" stroke="#ececec" stroke-width="2.1" stroke-linejoin="round"/>
<polygon points="428.26,396.97 441.05,407.18 429.42,415.81 416.18,405.05" fill="#818181" stroke="#818181" stroke-width="2.1" stroke-linejoin="round"/>
<polygon points="461.88,401.48 475.12,412.15 463.06,420.22 450.82,409.45" fill="#818181" stroke="#818181" stroke-width="2.1" stroke-linejoin="round"/>
<polygon points="445.73,412.59 457.98,423.82 446.06,432.11 433.53,420.69" fill="#818181" stroke="#818181" stroke-width="2.1" stroke-linejoin="round"/>
<polygon points="479.07,416.49 492.94,428.23 480.85,436.33 467.43,425.04" fill="#ececec" stroke="#ececec" stroke-width="2.1" stroke-linejoin="round"/>
<polygon points="463.46,427.7 476.73,439.68 463.68,450.43 451.53,436.51" fill="#818181" stroke="#818181" stroke-width="2.1" stroke-linejoin="round"/>
<polygon points="480.23,443.21 491.89,434.87 489.22,442.33 479.2,448.47" fill="#5e5e5e" stroke="#5e5e5e" stroke-width="2.1" stroke-linejoin="round"/>
<polygon points="464.59,452.17 477.15,444.9 471.87,456.47 462,461.02" fill="#d2d2d2" stroke="#d2d2d2" stroke-width="2.1" stroke-linejoin="round"/>
<polygon points="478.74,451.68 485.55,446.93 481.25,457.39 473.65,461.19" fill="#c2c2c2" stroke="#c2c2c2" stroke-width="2.1" stroke-linejoin="round"/>
<polygon points="462.76,464.57 470.58,459.59 466.17,468.09 459.66,471.77" fill="#b2b2b2" stroke="#b2b2b2" stroke-width="2.1" stroke-linejoin="round"/>
<polygon points="471.64,465.48 479.61,460.33 476.76,466.31 468.81,471.14" fill="#6a6a6a" stroke="#6a6a6a" stroke-width="2.1" stroke-linejoin="round"/>
<polygon points="459.8,473.45 466.01,470.66 464.71,475.23 459.8,478" fill="#b2b2b2" stroke="#b2b2b2" stroke-width="2.1" stroke-linejoin="round"/>
<polygon points="385.6,421.7 400.6,412.8 445.6,430 448,433.1 460.2,489.8 446.3,499.8 444.4,499.8 401.7,476.4 385,425.6" fill="#0d0d0d" stroke="#0d0d0d" stroke-width="2.0" stroke-linejoin="round"/>
<polygon points="400.65,413.58 409.39,417.32 396.63,425.32 387.18,421.57" fill="#5a5a5a" stroke="#5a5a5a" stroke-width="2.1" stroke-linejoin="round"/>
<polygon points="414.49,418.59 425.69,422.96 412.12,432.01 401.46,427.64" fill="#ececec" stroke="#ececec" stroke-width="2.1" stroke-linejoin="round"/>
<polygon points="430.69,424.69 444.11,430.15 430.52,439.21 417.55,433.75" fill="#5e5e5e" stroke="#5e5e5e" stroke-width="2.1" stroke-linejoin="round"/>
<polygon points="386.1,426.69 396.12,429.95 399.59,442.85 390.55,440.04" fill="#6e6e6e" stroke="#6e6e6e" stroke-width="2.1" stroke-linejoin="round"/>
<polygon points="399.94,432.06 411.61,435.75 415.59,451.93 404.48,447.38" fill="#555555" stroke="#555555" stroke-width="2.1" stroke-linejoin="round"/>
<polygon points="415.65,437.88 429.4,442.34 432.94,458.68 420.37,453.87" fill="#dedede" stroke="#dedede" stroke-width="2.1" stroke-linejoin="round"/>
<polygon points="391.7,444.89 401.12,448.62 405.05,462.56 396.17,459.26" fill="#555555" stroke="#555555" stroke-width="2.1" stroke-linejoin="round"/>
<polygon points="406.64,452.06 417.71,456.42 421.2,470.83 410.58,466.48" fill="#6e6e6e" stroke="#6e6e6e" stroke-width="2.1" stroke-linejoin="round"/>
<polygon points="422.7,459.85 435,464.72 438.41,479.7 426.2,474.3" fill="#585858" stroke="#585858" stroke-width="2.1" stroke-linejoin="round"/>
<polygon points="397.89,463.82 407.23,467.53 411.07,480.08 402.26,475.89" fill="#cacaca" stroke="#cacaca" stroke-width="2.1" stroke-linejoin="round"/>
<polygon points="412.15,471.01 422.21,475.31 425.64,488.96 415.6,483.72" fill="#dedede" stroke="#dedede" stroke-width="2.1" stroke-linejoin="round"/>
<polygon points="427.29,478.89 439.41,484.21 443.27,498.33 431.68,491.53" fill="#555555" stroke="#555555" stroke-width="2.1" stroke-linejoin="round"/>
<polygon points="433.19,442.94 447.5,434.23 450.53,450.57 436.77,459.75" fill="#5a5a5a" stroke="#5a5a5a" stroke-width="2.1" stroke-linejoin="round"/>
<polygon points="438.79,464.5 452.49,454.91 455.04,470.58 442.34,479.72" fill="#6e6e6e" stroke="#6e6e6e" stroke-width="2.1" stroke-linejoin="round"/>
<polygon points="443.78,484.01 456.9,474.9 459.44,489.49 446.77,498.6" fill="#ebebeb" stroke="#ebebeb" stroke-width="2.1" stroke-linejoin="round"/>
</g>
</svg>
</div>
</body></html>
